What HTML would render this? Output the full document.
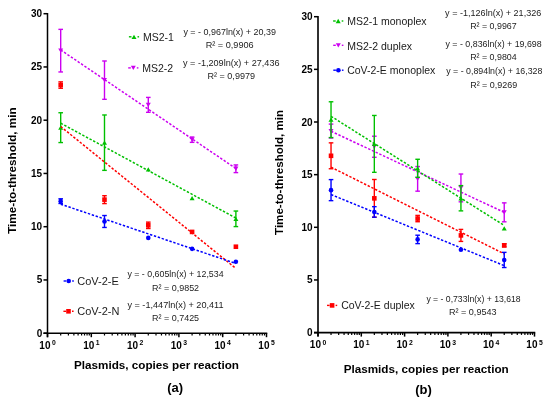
<!DOCTYPE html>
<html><head><meta charset="utf-8"><style>
html,body{margin:0;padding:0;background:#fff;}
body{width:550px;height:404px;overflow:hidden;}
svg{display:block;filter:blur(0.25px);}
text{font-family:"Liberation Sans",Arial,sans-serif;}
.tk{font-size:10px;font-weight:bold;fill:#000;}
.sup{font-size:6.8px;font-weight:bold;fill:#000;}
.lg{font-size:10.5px;fill:#1a1a1a;}
.lg2{font-size:11px;fill:#1a1a1a;}
.eq{font-size:8.9px;fill:#1c1c1c;}
.at{font-size:11.7px;font-weight:bold;fill:#000;}
.pl{font-size:13px;font-weight:bold;fill:#000;}
</style></head><body>
<svg width="550" height="404" viewBox="0 0 550 404">
<rect width="550" height="404" fill="#fff"/>
<line x1="47.5" y1="12.95" x2="47.5" y2="337.20" stroke="#000" stroke-width="1.5"/>
<line x1="43.50" y1="333.2" x2="267.25" y2="333.2" stroke="#000" stroke-width="1.5"/>
<line x1="43.50" y1="333.20" x2="47.5" y2="333.20" stroke="#000" stroke-width="1.5"/>
<text x="42.20" y="336.70" class="tk" text-anchor="end">0</text>
<line x1="43.50" y1="279.95" x2="47.5" y2="279.95" stroke="#000" stroke-width="1.5"/>
<text x="42.20" y="283.45" class="tk" text-anchor="end">5</text>
<line x1="43.50" y1="226.70" x2="47.5" y2="226.70" stroke="#000" stroke-width="1.5"/>
<text x="42.20" y="230.20" class="tk" text-anchor="end">10</text>
<line x1="43.50" y1="173.45" x2="47.5" y2="173.45" stroke="#000" stroke-width="1.5"/>
<text x="42.20" y="176.95" class="tk" text-anchor="end">15</text>
<line x1="43.50" y1="120.20" x2="47.5" y2="120.20" stroke="#000" stroke-width="1.5"/>
<text x="42.20" y="123.70" class="tk" text-anchor="end">20</text>
<line x1="43.50" y1="66.95" x2="47.5" y2="66.95" stroke="#000" stroke-width="1.5"/>
<text x="42.20" y="70.45" class="tk" text-anchor="end">25</text>
<line x1="43.50" y1="13.70" x2="47.5" y2="13.70" stroke="#000" stroke-width="1.5"/>
<text x="42.20" y="17.20" class="tk" text-anchor="end">30</text>
<line x1="47.50" y1="333.2" x2="47.50" y2="337.20" stroke="#000" stroke-width="1.5"/>
<line x1="60.69" y1="333.2" x2="60.69" y2="335.50" stroke="#000" stroke-width="1.2"/>
<line x1="68.40" y1="333.2" x2="68.40" y2="335.50" stroke="#000" stroke-width="1.2"/>
<line x1="73.87" y1="333.2" x2="73.87" y2="335.50" stroke="#000" stroke-width="1.2"/>
<line x1="78.11" y1="333.2" x2="78.11" y2="335.50" stroke="#000" stroke-width="1.2"/>
<line x1="81.58" y1="333.2" x2="81.58" y2="335.50" stroke="#000" stroke-width="1.2"/>
<line x1="84.52" y1="333.2" x2="84.52" y2="335.50" stroke="#000" stroke-width="1.2"/>
<line x1="87.06" y1="333.2" x2="87.06" y2="335.50" stroke="#000" stroke-width="1.2"/>
<line x1="89.30" y1="333.2" x2="89.30" y2="335.50" stroke="#000" stroke-width="1.2"/>
<text x="44.90" y="348.50" class="tk" text-anchor="middle">10</text>
<text x="51.90" y="345.30" class="sup">0</text>
<line x1="91.30" y1="333.2" x2="91.30" y2="337.20" stroke="#000" stroke-width="1.5"/>
<line x1="104.49" y1="333.2" x2="104.49" y2="335.50" stroke="#000" stroke-width="1.2"/>
<line x1="112.20" y1="333.2" x2="112.20" y2="335.50" stroke="#000" stroke-width="1.2"/>
<line x1="117.67" y1="333.2" x2="117.67" y2="335.50" stroke="#000" stroke-width="1.2"/>
<line x1="121.91" y1="333.2" x2="121.91" y2="335.50" stroke="#000" stroke-width="1.2"/>
<line x1="125.38" y1="333.2" x2="125.38" y2="335.50" stroke="#000" stroke-width="1.2"/>
<line x1="128.32" y1="333.2" x2="128.32" y2="335.50" stroke="#000" stroke-width="1.2"/>
<line x1="130.86" y1="333.2" x2="130.86" y2="335.50" stroke="#000" stroke-width="1.2"/>
<line x1="133.10" y1="333.2" x2="133.10" y2="335.50" stroke="#000" stroke-width="1.2"/>
<text x="88.70" y="348.50" class="tk" text-anchor="middle">10</text>
<text x="95.70" y="345.30" class="sup">1</text>
<line x1="135.10" y1="333.2" x2="135.10" y2="337.20" stroke="#000" stroke-width="1.5"/>
<line x1="148.29" y1="333.2" x2="148.29" y2="335.50" stroke="#000" stroke-width="1.2"/>
<line x1="156.00" y1="333.2" x2="156.00" y2="335.50" stroke="#000" stroke-width="1.2"/>
<line x1="161.47" y1="333.2" x2="161.47" y2="335.50" stroke="#000" stroke-width="1.2"/>
<line x1="165.71" y1="333.2" x2="165.71" y2="335.50" stroke="#000" stroke-width="1.2"/>
<line x1="169.18" y1="333.2" x2="169.18" y2="335.50" stroke="#000" stroke-width="1.2"/>
<line x1="172.12" y1="333.2" x2="172.12" y2="335.50" stroke="#000" stroke-width="1.2"/>
<line x1="174.66" y1="333.2" x2="174.66" y2="335.50" stroke="#000" stroke-width="1.2"/>
<line x1="176.90" y1="333.2" x2="176.90" y2="335.50" stroke="#000" stroke-width="1.2"/>
<text x="132.50" y="348.50" class="tk" text-anchor="middle">10</text>
<text x="139.50" y="345.30" class="sup">2</text>
<line x1="178.90" y1="333.2" x2="178.90" y2="337.20" stroke="#000" stroke-width="1.5"/>
<line x1="192.09" y1="333.2" x2="192.09" y2="335.50" stroke="#000" stroke-width="1.2"/>
<line x1="199.80" y1="333.2" x2="199.80" y2="335.50" stroke="#000" stroke-width="1.2"/>
<line x1="205.27" y1="333.2" x2="205.27" y2="335.50" stroke="#000" stroke-width="1.2"/>
<line x1="209.51" y1="333.2" x2="209.51" y2="335.50" stroke="#000" stroke-width="1.2"/>
<line x1="212.98" y1="333.2" x2="212.98" y2="335.50" stroke="#000" stroke-width="1.2"/>
<line x1="215.92" y1="333.2" x2="215.92" y2="335.50" stroke="#000" stroke-width="1.2"/>
<line x1="218.46" y1="333.2" x2="218.46" y2="335.50" stroke="#000" stroke-width="1.2"/>
<line x1="220.70" y1="333.2" x2="220.70" y2="335.50" stroke="#000" stroke-width="1.2"/>
<text x="176.30" y="348.50" class="tk" text-anchor="middle">10</text>
<text x="183.30" y="345.30" class="sup">3</text>
<line x1="222.70" y1="333.2" x2="222.70" y2="337.20" stroke="#000" stroke-width="1.5"/>
<line x1="235.89" y1="333.2" x2="235.89" y2="335.50" stroke="#000" stroke-width="1.2"/>
<line x1="243.60" y1="333.2" x2="243.60" y2="335.50" stroke="#000" stroke-width="1.2"/>
<line x1="249.07" y1="333.2" x2="249.07" y2="335.50" stroke="#000" stroke-width="1.2"/>
<line x1="253.31" y1="333.2" x2="253.31" y2="335.50" stroke="#000" stroke-width="1.2"/>
<line x1="256.78" y1="333.2" x2="256.78" y2="335.50" stroke="#000" stroke-width="1.2"/>
<line x1="259.72" y1="333.2" x2="259.72" y2="335.50" stroke="#000" stroke-width="1.2"/>
<line x1="262.26" y1="333.2" x2="262.26" y2="335.50" stroke="#000" stroke-width="1.2"/>
<line x1="264.50" y1="333.2" x2="264.50" y2="335.50" stroke="#000" stroke-width="1.2"/>
<text x="220.10" y="348.50" class="tk" text-anchor="middle">10</text>
<text x="227.10" y="345.30" class="sup">4</text>
<line x1="266.50" y1="333.2" x2="266.50" y2="337.20" stroke="#000" stroke-width="1.5"/>
<text x="263.90" y="348.50" class="tk" text-anchor="middle">10</text>
<text x="270.90" y="345.30" class="sup">5</text>
<line x1="60.69" y1="49.93" x2="235.89" y2="168.52" stroke="#cc00f0" stroke-width="1.5" stroke-dasharray="2.4 1.7"/>
<line x1="60.69" y1="29.36" x2="60.69" y2="71.96" stroke="#cc00f0" stroke-width="1.4"/>
<line x1="58.39" y1="29.36" x2="62.99" y2="29.36" stroke="#cc00f0" stroke-width="1.4"/>
<line x1="58.39" y1="71.96" x2="62.99" y2="71.96" stroke="#cc00f0" stroke-width="1.4"/>
<polygon points="58.19,48.51 63.19,48.51 60.69,52.81" fill="#cc00f0"/>
<line x1="104.49" y1="60.99" x2="104.49" y2="99.33" stroke="#cc00f0" stroke-width="1.4"/>
<line x1="102.19" y1="60.99" x2="106.79" y2="60.99" stroke="#cc00f0" stroke-width="1.4"/>
<line x1="102.19" y1="99.33" x2="106.79" y2="99.33" stroke="#cc00f0" stroke-width="1.4"/>
<polygon points="101.99,78.01 106.99,78.01 104.49,82.31" fill="#cc00f0"/>
<line x1="148.29" y1="97.41" x2="148.29" y2="112.32" stroke="#cc00f0" stroke-width="1.4"/>
<line x1="145.99" y1="97.41" x2="150.59" y2="97.41" stroke="#cc00f0" stroke-width="1.4"/>
<line x1="145.99" y1="112.32" x2="150.59" y2="112.32" stroke="#cc00f0" stroke-width="1.4"/>
<polygon points="145.79,102.71 150.79,102.71 148.29,107.01" fill="#cc00f0"/>
<line x1="192.09" y1="137.03" x2="192.09" y2="142.35" stroke="#cc00f0" stroke-width="1.4"/>
<line x1="189.79" y1="137.03" x2="194.39" y2="137.03" stroke="#cc00f0" stroke-width="1.4"/>
<line x1="189.79" y1="142.35" x2="194.39" y2="142.35" stroke="#cc00f0" stroke-width="1.4"/>
<polygon points="189.59,137.54 194.59,137.54 192.09,141.84" fill="#cc00f0"/>
<line x1="235.89" y1="164.93" x2="235.89" y2="172.60" stroke="#cc00f0" stroke-width="1.4"/>
<line x1="233.59" y1="164.93" x2="238.19" y2="164.93" stroke="#cc00f0" stroke-width="1.4"/>
<line x1="233.59" y1="172.60" x2="238.19" y2="172.60" stroke="#cc00f0" stroke-width="1.4"/>
<polygon points="233.39,166.61 238.39,166.61 235.89,170.91" fill="#cc00f0"/>
<line x1="60.69" y1="123.18" x2="235.89" y2="218.04" stroke="#00c000" stroke-width="1.5" stroke-dasharray="2.4 1.7"/>
<line x1="60.69" y1="112.74" x2="60.69" y2="142.56" stroke="#00c000" stroke-width="1.4"/>
<line x1="58.39" y1="112.74" x2="62.99" y2="112.74" stroke="#00c000" stroke-width="1.4"/>
<line x1="58.39" y1="142.56" x2="62.99" y2="142.56" stroke="#00c000" stroke-width="1.4"/>
<polygon points="58.19,129.80 63.19,129.80 60.69,125.50" fill="#00c000"/>
<line x1="104.49" y1="114.98" x2="104.49" y2="170.36" stroke="#00c000" stroke-width="1.4"/>
<line x1="102.19" y1="114.98" x2="106.79" y2="114.98" stroke="#00c000" stroke-width="1.4"/>
<line x1="102.19" y1="170.36" x2="106.79" y2="170.36" stroke="#00c000" stroke-width="1.4"/>
<polygon points="101.99,144.82 106.99,144.82 104.49,140.52" fill="#00c000"/>
<polygon points="145.79,171.45 150.79,171.45 148.29,167.15" fill="#00c000"/>
<polygon points="189.59,200.31 194.59,200.31 192.09,196.01" fill="#00c000"/>
<line x1="235.89" y1="211.04" x2="235.89" y2="226.59" stroke="#00c000" stroke-width="1.4"/>
<line x1="233.59" y1="211.04" x2="238.19" y2="211.04" stroke="#00c000" stroke-width="1.4"/>
<line x1="233.59" y1="226.59" x2="238.19" y2="226.59" stroke="#00c000" stroke-width="1.4"/>
<polygon points="233.39,220.97 238.39,220.97 235.89,216.67" fill="#00c000"/>
<line x1="60.69" y1="126.50" x2="235.89" y2="268.44" stroke="#ff0000" stroke-width="1.5" stroke-dasharray="2.4 1.7"/>
<line x1="60.69" y1="81.86" x2="60.69" y2="88.25" stroke="#ff0000" stroke-width="1.4"/>
<line x1="58.39" y1="81.86" x2="62.99" y2="81.86" stroke="#ff0000" stroke-width="1.4"/>
<line x1="58.39" y1="88.25" x2="62.99" y2="88.25" stroke="#ff0000" stroke-width="1.4"/>
<rect x="58.39" y="82.75" width="4.60" height="4.60" fill="#ff0000"/>
<line x1="104.49" y1="195.71" x2="104.49" y2="203.59" stroke="#ff0000" stroke-width="1.4"/>
<line x1="102.19" y1="195.71" x2="106.79" y2="195.71" stroke="#ff0000" stroke-width="1.4"/>
<line x1="102.19" y1="203.59" x2="106.79" y2="203.59" stroke="#ff0000" stroke-width="1.4"/>
<rect x="102.19" y="197.35" width="4.60" height="4.60" fill="#ff0000"/>
<line x1="148.29" y1="222.12" x2="148.29" y2="228.51" stroke="#ff0000" stroke-width="1.4"/>
<line x1="145.99" y1="222.12" x2="150.59" y2="222.12" stroke="#ff0000" stroke-width="1.4"/>
<line x1="145.99" y1="228.51" x2="150.59" y2="228.51" stroke="#ff0000" stroke-width="1.4"/>
<rect x="145.99" y="223.02" width="4.60" height="4.60" fill="#ff0000"/>
<rect x="189.79" y="229.62" width="4.60" height="4.60" fill="#ff0000"/>
<rect x="233.59" y="244.42" width="4.60" height="4.60" fill="#ff0000"/>
<line x1="60.69" y1="204.18" x2="235.89" y2="263.52" stroke="#0000ff" stroke-width="1.5" stroke-dasharray="2.4 1.7"/>
<line x1="60.69" y1="198.80" x2="60.69" y2="203.48" stroke="#0000ff" stroke-width="1.4"/>
<line x1="58.39" y1="198.80" x2="62.99" y2="198.80" stroke="#0000ff" stroke-width="1.4"/>
<line x1="58.39" y1="203.48" x2="62.99" y2="203.48" stroke="#0000ff" stroke-width="1.4"/>
<circle cx="60.69" cy="201.14" r="2.30" fill="#0000ff"/>
<line x1="104.49" y1="215.52" x2="104.49" y2="227.45" stroke="#0000ff" stroke-width="1.4"/>
<line x1="102.19" y1="215.52" x2="106.79" y2="215.52" stroke="#0000ff" stroke-width="1.4"/>
<line x1="102.19" y1="227.45" x2="106.79" y2="227.45" stroke="#0000ff" stroke-width="1.4"/>
<circle cx="104.49" cy="221.48" r="2.30" fill="#0000ff"/>
<circle cx="148.29" cy="237.88" r="2.30" fill="#0000ff"/>
<circle cx="192.09" cy="248.85" r="2.30" fill="#0000ff"/>
<circle cx="235.89" cy="261.74" r="2.30" fill="#0000ff"/>
<line x1="128.90" y1="36.80" x2="131.50" y2="36.80" stroke="#00c000" stroke-width="1.4"/>
<line x1="137.50" y1="36.80" x2="139.10" y2="36.80" stroke="#00c000" stroke-width="1.4"/>
<polygon points="131.50,38.95 136.50,38.95 134.00,34.65" fill="#00c000"/>
<text x="143.0" y="40.7" class="lg">MS2-1</text>
<line x1="128.20" y1="67.90" x2="130.80" y2="67.90" stroke="#cc00f0" stroke-width="1.4"/>
<line x1="136.80" y1="67.90" x2="138.40" y2="67.90" stroke="#cc00f0" stroke-width="1.4"/>
<polygon points="130.80,65.75 135.80,65.75 133.30,70.05" fill="#cc00f0"/>
<text x="142.2" y="71.8" class="lg">MS2-2</text>
<line x1="63.60" y1="281.00" x2="66.20" y2="281.00" stroke="#0000ff" stroke-width="1.4"/>
<line x1="72.20" y1="281.00" x2="73.80" y2="281.00" stroke="#0000ff" stroke-width="1.4"/>
<circle cx="68.70" cy="281.00" r="2.30" fill="#0000ff"/>
<text x="77.2" y="285.1" class="lg2">CoV-2-E</text>
<line x1="63.40" y1="311.30" x2="66.00" y2="311.30" stroke="#ff0000" stroke-width="1.4"/>
<line x1="72.00" y1="311.30" x2="73.60" y2="311.30" stroke="#ff0000" stroke-width="1.4"/>
<rect x="66.20" y="309.00" width="4.60" height="4.60" fill="#ff0000"/>
<text x="77.2" y="315.2" class="lg2">CoV-2-N</text>
<text x="183.4" y="34.5" class="eq" textLength="92.5" lengthAdjust="spacingAndGlyphs">y = - 0,967ln(x) + 20,39</text>
<text x="205.7" y="47.7" class="eq" textLength="48" lengthAdjust="spacingAndGlyphs">R² = 0,9906</text>
<text x="183.0" y="65.9" class="eq" textLength="96.5" lengthAdjust="spacingAndGlyphs">y = -1,209ln(x) + 27,436</text>
<text x="207.5" y="79.0" class="eq" textLength="47.5" lengthAdjust="spacingAndGlyphs">R² = 0,9979</text>
<text x="127.4" y="277.4" class="eq" textLength="96.2" lengthAdjust="spacingAndGlyphs">y = - 0,605ln(x) + 12,534</text>
<text x="152.1" y="291.2" class="eq" textLength="47" lengthAdjust="spacingAndGlyphs">R² = 0,9852</text>
<text x="127.4" y="307.5" class="eq" textLength="96.2" lengthAdjust="spacingAndGlyphs">y = -1,447ln(x) + 20,411</text>
<text x="152.1" y="321.3" class="eq" textLength="47" lengthAdjust="spacingAndGlyphs">R² = 0,7425</text>
<text x="156.5" y="368.6" class="at" text-anchor="middle">Plasmids, copies per reaction</text>
<text class="at" text-anchor="middle" transform="translate(16.3,170.65) rotate(-90)">Time-to-threshold, min</text>
<text x="175.2" y="392.2" class="pl" text-anchor="middle">(a)</text>
<line x1="318.0" y1="15.95" x2="318.0" y2="336.60" stroke="#303030" stroke-width="2.0"/>
<line x1="314.00" y1="332.6" x2="535.25" y2="332.6" stroke="#000" stroke-width="1.9"/>
<line x1="314.00" y1="332.60" x2="318.0" y2="332.60" stroke="#000" stroke-width="1.5"/>
<text x="312.60" y="336.10" class="tk" text-anchor="end">0</text>
<line x1="314.00" y1="279.95" x2="318.0" y2="279.95" stroke="#000" stroke-width="1.5"/>
<text x="312.60" y="283.45" class="tk" text-anchor="end">5</text>
<line x1="314.00" y1="227.30" x2="318.0" y2="227.30" stroke="#000" stroke-width="1.5"/>
<text x="312.60" y="230.80" class="tk" text-anchor="end">10</text>
<line x1="314.00" y1="174.65" x2="318.0" y2="174.65" stroke="#000" stroke-width="1.5"/>
<text x="312.60" y="178.15" class="tk" text-anchor="end">15</text>
<line x1="314.00" y1="122.00" x2="318.0" y2="122.00" stroke="#000" stroke-width="1.5"/>
<text x="312.60" y="125.50" class="tk" text-anchor="end">20</text>
<line x1="314.00" y1="69.35" x2="318.0" y2="69.35" stroke="#000" stroke-width="1.5"/>
<text x="312.60" y="72.85" class="tk" text-anchor="end">25</text>
<line x1="314.00" y1="16.70" x2="318.0" y2="16.70" stroke="#000" stroke-width="1.5"/>
<text x="312.60" y="20.20" class="tk" text-anchor="end">30</text>
<line x1="318.00" y1="332.6" x2="318.00" y2="336.60" stroke="#000" stroke-width="1.5"/>
<line x1="331.03" y1="332.6" x2="331.03" y2="334.90" stroke="#000" stroke-width="1.2"/>
<line x1="338.66" y1="332.6" x2="338.66" y2="334.90" stroke="#000" stroke-width="1.2"/>
<line x1="344.07" y1="332.6" x2="344.07" y2="334.90" stroke="#000" stroke-width="1.2"/>
<line x1="348.27" y1="332.6" x2="348.27" y2="334.90" stroke="#000" stroke-width="1.2"/>
<line x1="351.69" y1="332.6" x2="351.69" y2="334.90" stroke="#000" stroke-width="1.2"/>
<line x1="354.59" y1="332.6" x2="354.59" y2="334.90" stroke="#000" stroke-width="1.2"/>
<line x1="357.10" y1="332.6" x2="357.10" y2="334.90" stroke="#000" stroke-width="1.2"/>
<line x1="359.32" y1="332.6" x2="359.32" y2="334.90" stroke="#000" stroke-width="1.2"/>
<text x="315.40" y="347.90" class="tk" text-anchor="middle">10</text>
<text x="322.40" y="344.70" class="sup">0</text>
<line x1="361.30" y1="332.6" x2="361.30" y2="336.60" stroke="#000" stroke-width="1.5"/>
<line x1="374.33" y1="332.6" x2="374.33" y2="334.90" stroke="#000" stroke-width="1.2"/>
<line x1="381.96" y1="332.6" x2="381.96" y2="334.90" stroke="#000" stroke-width="1.2"/>
<line x1="387.37" y1="332.6" x2="387.37" y2="334.90" stroke="#000" stroke-width="1.2"/>
<line x1="391.57" y1="332.6" x2="391.57" y2="334.90" stroke="#000" stroke-width="1.2"/>
<line x1="394.99" y1="332.6" x2="394.99" y2="334.90" stroke="#000" stroke-width="1.2"/>
<line x1="397.89" y1="332.6" x2="397.89" y2="334.90" stroke="#000" stroke-width="1.2"/>
<line x1="400.40" y1="332.6" x2="400.40" y2="334.90" stroke="#000" stroke-width="1.2"/>
<line x1="402.62" y1="332.6" x2="402.62" y2="334.90" stroke="#000" stroke-width="1.2"/>
<text x="358.70" y="347.90" class="tk" text-anchor="middle">10</text>
<text x="365.70" y="344.70" class="sup">1</text>
<line x1="404.60" y1="332.6" x2="404.60" y2="336.60" stroke="#000" stroke-width="1.5"/>
<line x1="417.63" y1="332.6" x2="417.63" y2="334.90" stroke="#000" stroke-width="1.2"/>
<line x1="425.26" y1="332.6" x2="425.26" y2="334.90" stroke="#000" stroke-width="1.2"/>
<line x1="430.67" y1="332.6" x2="430.67" y2="334.90" stroke="#000" stroke-width="1.2"/>
<line x1="434.87" y1="332.6" x2="434.87" y2="334.90" stroke="#000" stroke-width="1.2"/>
<line x1="438.29" y1="332.6" x2="438.29" y2="334.90" stroke="#000" stroke-width="1.2"/>
<line x1="441.19" y1="332.6" x2="441.19" y2="334.90" stroke="#000" stroke-width="1.2"/>
<line x1="443.70" y1="332.6" x2="443.70" y2="334.90" stroke="#000" stroke-width="1.2"/>
<line x1="445.92" y1="332.6" x2="445.92" y2="334.90" stroke="#000" stroke-width="1.2"/>
<text x="402.00" y="347.90" class="tk" text-anchor="middle">10</text>
<text x="409.00" y="344.70" class="sup">2</text>
<line x1="447.90" y1="332.6" x2="447.90" y2="336.60" stroke="#000" stroke-width="1.5"/>
<line x1="460.93" y1="332.6" x2="460.93" y2="334.90" stroke="#000" stroke-width="1.2"/>
<line x1="468.56" y1="332.6" x2="468.56" y2="334.90" stroke="#000" stroke-width="1.2"/>
<line x1="473.97" y1="332.6" x2="473.97" y2="334.90" stroke="#000" stroke-width="1.2"/>
<line x1="478.17" y1="332.6" x2="478.17" y2="334.90" stroke="#000" stroke-width="1.2"/>
<line x1="481.59" y1="332.6" x2="481.59" y2="334.90" stroke="#000" stroke-width="1.2"/>
<line x1="484.49" y1="332.6" x2="484.49" y2="334.90" stroke="#000" stroke-width="1.2"/>
<line x1="487.00" y1="332.6" x2="487.00" y2="334.90" stroke="#000" stroke-width="1.2"/>
<line x1="489.22" y1="332.6" x2="489.22" y2="334.90" stroke="#000" stroke-width="1.2"/>
<text x="445.30" y="347.90" class="tk" text-anchor="middle">10</text>
<text x="452.30" y="344.70" class="sup">3</text>
<line x1="491.20" y1="332.6" x2="491.20" y2="336.60" stroke="#000" stroke-width="1.5"/>
<line x1="504.23" y1="332.6" x2="504.23" y2="334.90" stroke="#000" stroke-width="1.2"/>
<line x1="511.86" y1="332.6" x2="511.86" y2="334.90" stroke="#000" stroke-width="1.2"/>
<line x1="517.27" y1="332.6" x2="517.27" y2="334.90" stroke="#000" stroke-width="1.2"/>
<line x1="521.47" y1="332.6" x2="521.47" y2="334.90" stroke="#000" stroke-width="1.2"/>
<line x1="524.89" y1="332.6" x2="524.89" y2="334.90" stroke="#000" stroke-width="1.2"/>
<line x1="527.79" y1="332.6" x2="527.79" y2="334.90" stroke="#000" stroke-width="1.2"/>
<line x1="530.30" y1="332.6" x2="530.30" y2="334.90" stroke="#000" stroke-width="1.2"/>
<line x1="532.52" y1="332.6" x2="532.52" y2="334.90" stroke="#000" stroke-width="1.2"/>
<text x="488.60" y="347.90" class="tk" text-anchor="middle">10</text>
<text x="495.60" y="344.70" class="sup">4</text>
<line x1="534.50" y1="332.6" x2="534.50" y2="336.60" stroke="#000" stroke-width="1.5"/>
<text x="531.90" y="347.90" class="tk" text-anchor="middle">10</text>
<text x="538.90" y="344.70" class="sup">5</text>
<line x1="331.03" y1="131.28" x2="504.23" y2="212.36" stroke="#cc00f0" stroke-width="1.5" stroke-dasharray="2.4 1.7"/>
<line x1="331.03" y1="124.11" x2="331.03" y2="138.01" stroke="#cc00f0" stroke-width="1.4"/>
<line x1="328.73" y1="124.11" x2="333.33" y2="124.11" stroke="#cc00f0" stroke-width="1.4"/>
<line x1="328.73" y1="138.01" x2="333.33" y2="138.01" stroke="#cc00f0" stroke-width="1.4"/>
<polygon points="328.53,128.91 333.53,128.91 331.03,133.21" fill="#cc00f0"/>
<line x1="374.33" y1="136.22" x2="374.33" y2="157.28" stroke="#cc00f0" stroke-width="1.4"/>
<line x1="372.03" y1="136.22" x2="376.63" y2="136.22" stroke="#cc00f0" stroke-width="1.4"/>
<line x1="372.03" y1="157.28" x2="376.63" y2="157.28" stroke="#cc00f0" stroke-width="1.4"/>
<polygon points="371.83,144.60 376.83,144.60 374.33,148.90" fill="#cc00f0"/>
<line x1="417.63" y1="166.54" x2="417.63" y2="191.18" stroke="#cc00f0" stroke-width="1.4"/>
<line x1="415.33" y1="166.54" x2="419.93" y2="166.54" stroke="#cc00f0" stroke-width="1.4"/>
<line x1="415.33" y1="191.18" x2="419.93" y2="191.18" stroke="#cc00f0" stroke-width="1.4"/>
<polygon points="415.13,176.71 420.13,176.71 417.63,181.01" fill="#cc00f0"/>
<line x1="460.93" y1="174.02" x2="460.93" y2="201.82" stroke="#cc00f0" stroke-width="1.4"/>
<line x1="458.63" y1="174.02" x2="463.23" y2="174.02" stroke="#cc00f0" stroke-width="1.4"/>
<line x1="458.63" y1="201.82" x2="463.23" y2="201.82" stroke="#cc00f0" stroke-width="1.4"/>
<polygon points="458.43,185.77 463.43,185.77 460.93,190.07" fill="#cc00f0"/>
<line x1="504.23" y1="202.87" x2="504.23" y2="221.82" stroke="#cc00f0" stroke-width="1.4"/>
<line x1="501.93" y1="202.87" x2="506.53" y2="202.87" stroke="#cc00f0" stroke-width="1.4"/>
<line x1="501.93" y1="221.82" x2="506.53" y2="221.82" stroke="#cc00f0" stroke-width="1.4"/>
<polygon points="501.73,210.20 506.73,210.20 504.23,214.50" fill="#cc00f0"/>
<line x1="331.03" y1="116.26" x2="504.23" y2="225.46" stroke="#00c000" stroke-width="1.5" stroke-dasharray="2.4 1.7"/>
<line x1="331.03" y1="101.78" x2="331.03" y2="137.58" stroke="#00c000" stroke-width="1.4"/>
<line x1="328.73" y1="101.78" x2="333.33" y2="101.78" stroke="#00c000" stroke-width="1.4"/>
<line x1="328.73" y1="137.58" x2="333.33" y2="137.58" stroke="#00c000" stroke-width="1.4"/>
<polygon points="328.53,121.83 333.53,121.83 331.03,117.53" fill="#00c000"/>
<line x1="374.33" y1="115.47" x2="374.33" y2="172.33" stroke="#00c000" stroke-width="1.4"/>
<line x1="372.03" y1="115.47" x2="376.63" y2="115.47" stroke="#00c000" stroke-width="1.4"/>
<line x1="372.03" y1="172.33" x2="376.63" y2="172.33" stroke="#00c000" stroke-width="1.4"/>
<polygon points="371.83,146.05 376.83,146.05 374.33,141.75" fill="#00c000"/>
<line x1="417.63" y1="159.28" x2="417.63" y2="177.39" stroke="#00c000" stroke-width="1.4"/>
<line x1="415.33" y1="159.28" x2="419.93" y2="159.28" stroke="#00c000" stroke-width="1.4"/>
<line x1="415.33" y1="177.39" x2="419.93" y2="177.39" stroke="#00c000" stroke-width="1.4"/>
<polygon points="415.13,170.48 420.13,170.48 417.63,166.18" fill="#00c000"/>
<line x1="460.93" y1="185.60" x2="460.93" y2="210.87" stroke="#00c000" stroke-width="1.4"/>
<line x1="458.63" y1="185.60" x2="463.23" y2="185.60" stroke="#00c000" stroke-width="1.4"/>
<line x1="458.63" y1="210.87" x2="463.23" y2="210.87" stroke="#00c000" stroke-width="1.4"/>
<polygon points="458.43,200.39 463.43,200.39 460.93,196.09" fill="#00c000"/>
<polygon points="501.73,230.61 506.73,230.61 504.23,226.31" fill="#00c000"/>
<line x1="331.03" y1="167.19" x2="504.23" y2="253.90" stroke="#ff0000" stroke-width="1.5" stroke-dasharray="2.4 1.7"/>
<line x1="331.03" y1="142.85" x2="331.03" y2="168.75" stroke="#ff0000" stroke-width="1.4"/>
<line x1="328.73" y1="142.85" x2="333.33" y2="142.85" stroke="#ff0000" stroke-width="1.4"/>
<line x1="328.73" y1="168.75" x2="333.33" y2="168.75" stroke="#ff0000" stroke-width="1.4"/>
<rect x="328.73" y="153.50" width="4.60" height="4.60" fill="#ff0000"/>
<line x1="374.33" y1="179.49" x2="374.33" y2="217.19" stroke="#ff0000" stroke-width="1.4"/>
<line x1="372.03" y1="179.49" x2="376.63" y2="179.49" stroke="#ff0000" stroke-width="1.4"/>
<line x1="372.03" y1="217.19" x2="376.63" y2="217.19" stroke="#ff0000" stroke-width="1.4"/>
<rect x="372.03" y="196.04" width="4.60" height="4.60" fill="#ff0000"/>
<line x1="417.63" y1="215.40" x2="417.63" y2="221.72" stroke="#ff0000" stroke-width="1.4"/>
<line x1="415.33" y1="215.40" x2="419.93" y2="215.40" stroke="#ff0000" stroke-width="1.4"/>
<line x1="415.33" y1="221.72" x2="419.93" y2="221.72" stroke="#ff0000" stroke-width="1.4"/>
<rect x="415.33" y="216.26" width="4.60" height="4.60" fill="#ff0000"/>
<line x1="460.93" y1="229.41" x2="460.93" y2="241.41" stroke="#ff0000" stroke-width="1.4"/>
<line x1="458.63" y1="229.41" x2="463.23" y2="229.41" stroke="#ff0000" stroke-width="1.4"/>
<line x1="458.63" y1="241.41" x2="463.23" y2="241.41" stroke="#ff0000" stroke-width="1.4"/>
<rect x="458.63" y="233.11" width="4.60" height="4.60" fill="#ff0000"/>
<line x1="504.23" y1="243.73" x2="504.23" y2="246.89" stroke="#ff0000" stroke-width="1.4"/>
<line x1="501.93" y1="243.73" x2="506.53" y2="243.73" stroke="#ff0000" stroke-width="1.4"/>
<line x1="501.93" y1="246.89" x2="506.53" y2="246.89" stroke="#ff0000" stroke-width="1.4"/>
<rect x="501.93" y="243.01" width="4.60" height="4.60" fill="#ff0000"/>
<line x1="331.03" y1="194.55" x2="504.23" y2="265.64" stroke="#0000ff" stroke-width="1.5" stroke-dasharray="2.4 1.7"/>
<line x1="331.03" y1="179.60" x2="331.03" y2="200.66" stroke="#0000ff" stroke-width="1.4"/>
<line x1="328.73" y1="179.60" x2="333.33" y2="179.60" stroke="#0000ff" stroke-width="1.4"/>
<line x1="328.73" y1="200.66" x2="333.33" y2="200.66" stroke="#0000ff" stroke-width="1.4"/>
<circle cx="331.03" cy="190.13" r="2.30" fill="#0000ff"/>
<line x1="374.33" y1="206.66" x2="374.33" y2="217.19" stroke="#0000ff" stroke-width="1.4"/>
<line x1="372.03" y1="206.66" x2="376.63" y2="206.66" stroke="#0000ff" stroke-width="1.4"/>
<line x1="372.03" y1="217.19" x2="376.63" y2="217.19" stroke="#0000ff" stroke-width="1.4"/>
<circle cx="374.33" cy="211.93" r="2.30" fill="#0000ff"/>
<line x1="417.63" y1="235.20" x2="417.63" y2="243.62" stroke="#0000ff" stroke-width="1.4"/>
<line x1="415.33" y1="235.20" x2="419.93" y2="235.20" stroke="#0000ff" stroke-width="1.4"/>
<line x1="415.33" y1="243.62" x2="419.93" y2="243.62" stroke="#0000ff" stroke-width="1.4"/>
<circle cx="417.63" cy="239.41" r="2.30" fill="#0000ff"/>
<circle cx="460.93" cy="249.73" r="2.30" fill="#0000ff"/>
<line x1="504.23" y1="252.36" x2="504.23" y2="267.52" stroke="#0000ff" stroke-width="1.4"/>
<line x1="501.93" y1="252.36" x2="506.53" y2="252.36" stroke="#0000ff" stroke-width="1.4"/>
<line x1="501.93" y1="267.52" x2="506.53" y2="267.52" stroke="#0000ff" stroke-width="1.4"/>
<circle cx="504.23" cy="259.94" r="2.30" fill="#0000ff"/>
<line x1="333.10" y1="21.00" x2="335.70" y2="21.00" stroke="#00c000" stroke-width="1.4"/>
<line x1="341.70" y1="21.00" x2="343.30" y2="21.00" stroke="#00c000" stroke-width="1.4"/>
<polygon points="335.70,23.15 340.70,23.15 338.20,18.85" fill="#00c000"/>
<text x="347.2" y="25.1" class="lg">MS2-1 monoplex</text>
<line x1="333.20" y1="45.30" x2="335.80" y2="45.30" stroke="#cc00f0" stroke-width="1.4"/>
<line x1="341.80" y1="45.30" x2="343.40" y2="45.30" stroke="#cc00f0" stroke-width="1.4"/>
<polygon points="335.80,43.15 340.80,43.15 338.30,47.45" fill="#cc00f0"/>
<text x="347.2" y="49.7" class="lg">MS2-2 duplex</text>
<line x1="333.30" y1="70.20" x2="335.90" y2="70.20" stroke="#0000ff" stroke-width="1.4"/>
<line x1="341.90" y1="70.20" x2="343.50" y2="70.20" stroke="#0000ff" stroke-width="1.4"/>
<circle cx="338.40" cy="70.20" r="2.30" fill="#0000ff"/>
<text x="347.2" y="74.4" class="lg">CoV-2-E monoplex</text>
<line x1="327.00" y1="305.40" x2="329.60" y2="305.40" stroke="#ff0000" stroke-width="1.4"/>
<line x1="335.60" y1="305.40" x2="337.20" y2="305.40" stroke="#ff0000" stroke-width="1.4"/>
<rect x="329.80" y="303.10" width="4.60" height="4.60" fill="#ff0000"/>
<text x="341.2" y="309.2" class="lg">CoV-2-E duplex</text>
<text x="445.1" y="15.9" class="eq" textLength="96.2" lengthAdjust="spacingAndGlyphs">y = -1,126ln(x) + 21,326</text>
<text x="470.2" y="29.0" class="eq" textLength="46.5" lengthAdjust="spacingAndGlyphs">R² = 0,9967</text>
<text x="445.5" y="46.5" class="eq" textLength="96.2" lengthAdjust="spacingAndGlyphs">y = - 0,836ln(x) + 19,698</text>
<text x="470.2" y="59.5" class="eq" textLength="46.5" lengthAdjust="spacingAndGlyphs">R² = 0,9804</text>
<text x="446.2" y="74.2" class="eq" textLength="96.2" lengthAdjust="spacingAndGlyphs">y = - 0,894ln(x) + 16,328</text>
<text x="470.2" y="87.7" class="eq" textLength="47" lengthAdjust="spacingAndGlyphs">R² = 0,9269</text>
<text x="426.4" y="302.0" class="eq" textLength="94.2" lengthAdjust="spacingAndGlyphs">y = - 0,733ln(x) + 13,618</text>
<text x="449.0" y="315.1" class="eq" textLength="47.5" lengthAdjust="spacingAndGlyphs">R² = 0,9543</text>
<text x="426.2" y="372.6" class="at" text-anchor="middle">Plasmids, copies per reaction</text>
<text class="at" style="font-size:11.55px" text-anchor="middle" transform="translate(283,172.5) rotate(-90)">Time-to-threshold, min</text>
<text x="423.5" y="394.4" class="pl" text-anchor="middle">(b)</text>
</svg>
</body></html>
